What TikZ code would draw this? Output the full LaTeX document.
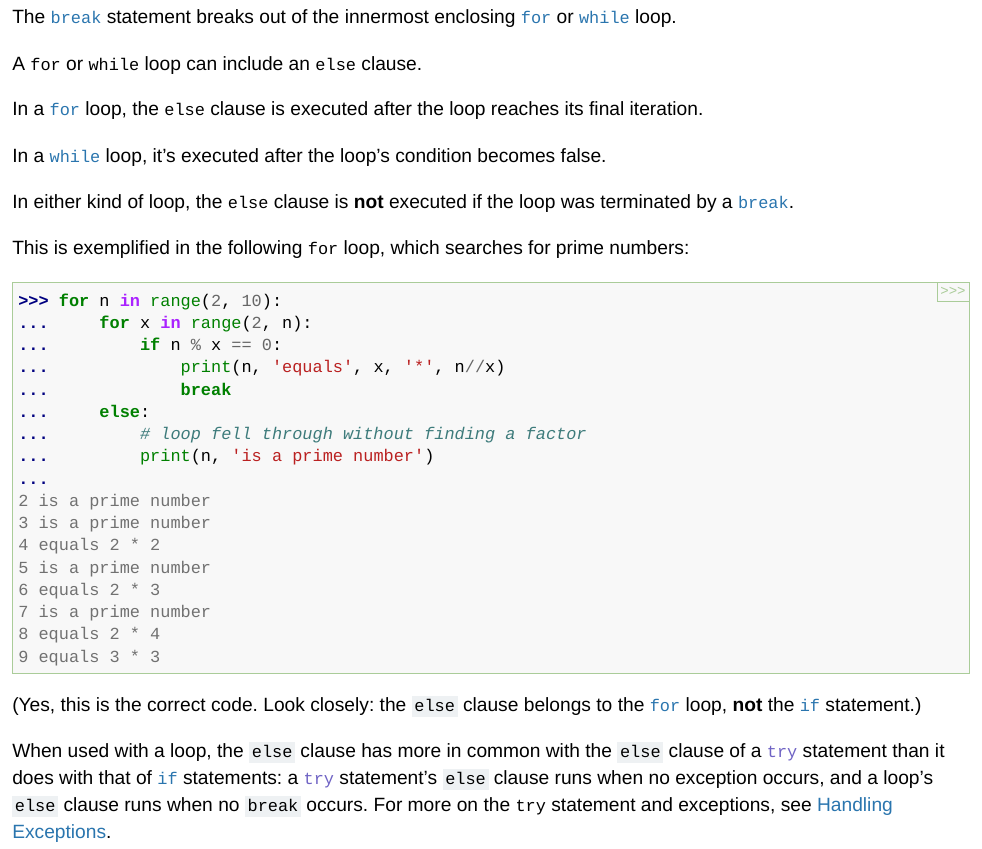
\documentclass[tikz,border=0pt]{standalone}
\usepackage{fontspec}
\usepackage{xcolor}
\setmainfont{Liberation Sans}
\setmonofont{Liberation Mono}[Scale=0.881]
\definecolor{linkblue}{HTML}{2A75AE}
\definecolor{trypurple}{HTML}{6F63C4}
\definecolor{codebg}{HTML}{EEF1F3}
\definecolor{prebg}{HTML}{F8F8F8}
\definecolor{preborder}{HTML}{AACC99}
\definecolor{kwgreen}{HTML}{008000}
\definecolor{owpurple}{HTML}{AA22FF}
\definecolor{numgray}{HTML}{666666}
\definecolor{strred}{HTML}{BA2121}
\definecolor{comteal}{HTML}{3D7B7B}
\definecolor{promptnavy}{HTML}{000080}
\definecolor{outgray}{HTML}{717171}
\frenchspacing
% inline text markup
\newcommand\lnk[1]{{\ttfamily\color{linkblue}#1}}
\newcommand\trylnk[1]{{\ttfamily\color{trypurple}#1}}
\newcommand\cd[1]{{\ttfamily #1}}
\newcommand\cbox[1]{{\setlength\fboxsep{0pt}\colorbox{codebg}{\rule[-4.5pt]{0pt}{16pt}\hspace{2pt}\ttfamily #1\hspace{2pt}}}}
% code markup
\newcommand\pr[1]{{\bfseries\color{promptnavy}#1}}
\newcommand\kw[1]{{\bfseries\color{kwgreen}#1}}
\newcommand\ow[1]{{\bfseries\color{owpurple}#1}}
\newcommand\bi[1]{{\color{kwgreen}#1}}
\newcommand\nm[1]{{\color{numgray}#1}}
\newcommand\op[1]{{\color{numgray}#1}}
\newcommand\st[1]{{\color{strred}#1}}
\newcommand\cm[1]{{\itshape\color{comteal}#1}}

\begin{document}
\begin{tikzpicture}[x=0.75pt,y=-0.75pt,
  txt/.style={anchor=base west,inner sep=0pt,font=\fontsize{14.4}{20}\selectfont},
  code/.style={anchor=base west,inner sep=0pt,font=\fontsize{14.4}{20}\selectfont\ttfamily}]
\useasboundingbox (0,0) rectangle (982,849);
\def\lh{22.25}
\def\cw{10.15}
\def\px{18}
\def\py{306}

% paragraphs above the example
\node[txt] (p1) at (12,24) {The \lnk{break} statement breaks out of the innermost enclosing \lnk{for} or \lnk{while} loop.};
\node[txt] (p2) at (12,70) {A \cd{for} or \cd{while} loop can include an \cd{else} clause.};
\node[txt] (p3) at (12,116) {In a \lnk{for} loop, the \cd{else} clause is executed after the loop reaches its final iteration.};
\node[txt] (p4) at (12,162) {In a \lnk{while} loop, it's executed after the loop's condition becomes false.};
\node[txt] (p5) at (12,208) {In either kind of loop, the \cd{else} clause is \textbf{not} executed if the loop was terminated by a \lnk{break}.};
\node[txt] (p6) at (12,254) {This is exemplified in the following \cd{for} loop, which searches for prime numbers:};

% example box
\draw[preborder,fill=prebg] (12,282) rectangle (969,673);
\draw[preborder] (937,282) rectangle (969,301);
\node[code,anchor=center,text=preborder,font=\fontsize{12}{12}\selectfont\ttfamily] (copy) at (953,291.5) {>>>};

\node[code] (c0) at (\px,\py) {\pr{>>>} \kw{for} n \ow{in} \bi{range}(\nm{2}, \nm{10}):};
\foreach \i in {1,...,8}
  \node[code] (dots\i) at (\px,{\py+\i*\lh}) {\pr{...}};
\node[code] (c1) at ({\px+8*\cw},{\py+1*\lh}) {\kw{for} x \ow{in} \bi{range}(\nm{2}, n):};
\node[code] (c2) at ({\px+12*\cw},{\py+2*\lh}) {\kw{if} n \op{\%} x \op{==} \nm{0}:};
\node[code] (c3) at ({\px+16*\cw},{\py+3*\lh}) {\bi{print}(n, \st{'equals'}, x, \st{'*'}, n\op{//}x)};
\node[code] (c4) at ({\px+16*\cw},{\py+4*\lh}) {\kw{break}};
\node[code] (c5) at ({\px+8*\cw},{\py+5*\lh}) {\kw{else}:};
\node[code] (c6) at ({\px+12*\cw},{\py+6*\lh}) {\cm{\# loop fell through without finding a factor}};
\node[code] (c7) at ({\px+12*\cw},{\py+7*\lh}) {\bi{print}(n, \st{'is a prime number'})};

% output
\node[code,text=outgray] (o1) at (\px,{\py+9*\lh}) {2 is a prime number};
\node[code,text=outgray] (o2) at (\px,{\py+10*\lh}) {3 is a prime number};
\node[code,text=outgray] (o3) at (\px,{\py+11*\lh}) {4 equals 2 * 2};
\node[code,text=outgray] (o4) at (\px,{\py+12*\lh}) {5 is a prime number};
\node[code,text=outgray] (o5) at (\px,{\py+13*\lh}) {6 equals 2 * 3};
\node[code,text=outgray] (o6) at (\px,{\py+14*\lh}) {7 is a prime number};
\node[code,text=outgray] (o7) at (\px,{\py+15*\lh}) {8 equals 2 * 4};
\node[code,text=outgray] (o8) at (\px,{\py+16*\lh}) {9 equals 3 * 3};

% paragraphs below the example
\node[txt] (q1) at (12,711) {(Yes, this is the correct code. Look closely: the \cbox{else} clause belongs to the \lnk{for} loop, \textbf{not} the \lnk{if} statement.)};
\node[txt] (r1) at (12,757) {When used with a loop, the \cbox{else} clause has more in common with the \cbox{else} clause of a \trylnk{try} statement than it};
\node[txt] (r2) at (12,784) {does with that of \lnk{if} statements: a \trylnk{try} statement's \cbox{else} clause runs when no exception occurs, and a loop's};
\node[txt] (r3) at (12,811) {\cbox{else} clause runs when no \cbox{break} occurs. For more on the \cd{try} statement and exceptions, see {\color{linkblue}Handling}};
\node[txt] (r4) at (12,838) {{\color{linkblue}Exceptions}.};
\end{tikzpicture}
\end{document}
